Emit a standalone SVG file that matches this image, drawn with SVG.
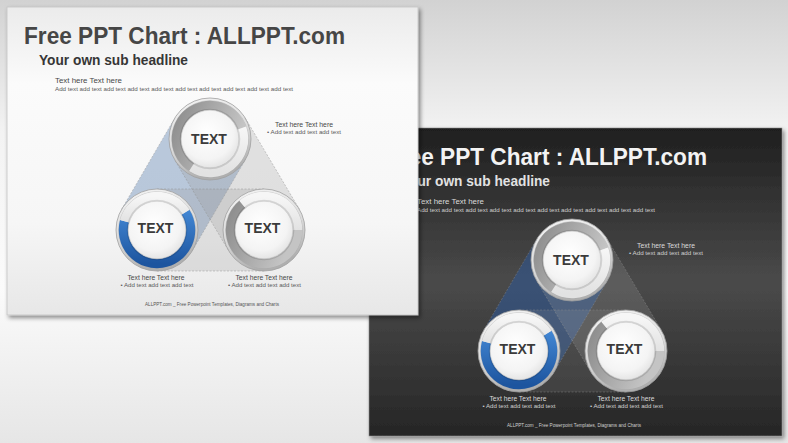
<svg xmlns="http://www.w3.org/2000/svg" width="788" height="443" viewBox="0 0 788 443">
<defs>
<linearGradient id="pageBg" x1="0" y1="0" x2="0" y2="1">
<stop offset="0" stop-color="#d2d2d2"/><stop offset="0.3" stop-color="#f3f3f3"/><stop offset="0.65" stop-color="#fbfbfb"/><stop offset="1" stop-color="#e6e6e6"/>
</linearGradient>
<linearGradient id="lightSlide" x1="0" y1="0" x2="0" y2="1">
<stop offset="0" stop-color="#ebebeb"/><stop offset="0.25" stop-color="#fbfbfb"/><stop offset="0.7" stop-color="#f6f6f6"/><stop offset="1" stop-color="#e7e7e7"/>
</linearGradient>
<linearGradient id="darkSlide" x1="0" y1="0" x2="0" y2="1">
<stop offset="0" stop-color="#1f1f1f"/><stop offset="0.5" stop-color="#4a4a4a"/><stop offset="1" stop-color="#262626"/>
</linearGradient>
<linearGradient id="rimG" x1="0" y1="0" x2="0.3" y2="1">
<stop offset="0" stop-color="#f6f6f6"/><stop offset="0.6" stop-color="#dadada"/><stop offset="1" stop-color="#afafaf"/>
</linearGradient>
<linearGradient id="grayG" x1="0" y1="0" x2="1" y2="0.4">
<stop offset="0" stop-color="#8c8c8c"/><stop offset="1" stop-color="#c4c4c4"/>
</linearGradient>
<linearGradient id="lightG" x1="0" y1="0" x2="0" y2="1">
<stop offset="0" stop-color="#f6f6f6"/><stop offset="1" stop-color="#e2e2e2"/>
</linearGradient>
<linearGradient id="blueG" x1="0" y1="0" x2="0" y2="1">
<stop offset="0" stop-color="#4185d2"/><stop offset="1" stop-color="#1d559f"/>
</linearGradient>
<radialGradient id="innerG" cx="0.45" cy="0.4" r="0.65">
<stop offset="0" stop-color="#ffffff"/><stop offset="0.7" stop-color="#f4f4f4"/><stop offset="1" stop-color="#e0e0e0"/>
</radialGradient>
<filter id="shadow" x="-5%" y="-5%" width="112%" height="115%">
<feDropShadow dx="2" dy="2.5" stdDeviation="2" flood-color="#000" flood-opacity="0.45"/>
</filter>
</defs>
<style>
text{font-family:"Liberation Sans",Arial,sans-serif}
.title{font-size:23px;font-weight:bold}
.sub{font-size:14px;font-weight:bold}
.sh{font-size:7.8px}
.sb{font-size:5.8px}
.lh{font-size:7px;text-anchor:middle}
.lb{font-size:6.2px;text-anchor:middle}
.foot{font-size:4.6px;text-anchor:middle}
.ctext{font-size:14px;font-weight:bold;fill:#3b3b3b;text-anchor:middle}
.rim{fill:url(#rimG);stroke:#a0a0a0;stroke-width:0.8}
.sep{fill:none;stroke:#a6a6a6;stroke-width:0.5}
.seg{fill:none;stroke-width:9.5}
.sg{stroke:url(#grayG)}
.sl{stroke:url(#lightG)}
.sbl{stroke:url(#blueG)}
.ish{fill:#000;opacity:0.12}
.inner{fill:url(#innerG);stroke:#cbcbcb;stroke-width:0.6}
.edge{stroke:#8c8c8c;stroke-width:0.6;stroke-dasharray:2 1.5;stroke-opacity:0.7}
.L .title{fill:#464646}.L .sub{fill:#363636}.L .sh,.L .lh{fill:#484848}.L .sb,.L .lb{fill:#5a5a5a}.L .foot{fill:#555}
.D .title{fill:#f3f3f3}.D .sub{fill:#e2e2e2}.D .sh,.D .lh{fill:#dadada}.D .sb,.D .lb{fill:#cfcfcf}.D .foot{fill:#cfcfcf}
.L .bA{fill:#5a7fb0;fill-opacity:0.4}.L .bB{fill:#9a9a9a;fill-opacity:0.26}.L .bC{fill:#9a9a9a;fill-opacity:0.24}
.D .bA{fill:#2b5aa0;fill-opacity:0.5}.D .bB{fill:#c0c0c0;fill-opacity:0.16}.D .bC{fill:#c0c0c0;fill-opacity:0.12}
</style>
<rect width="788" height="443" fill="url(#pageBg)"/>

<!-- Dark slide (behind) -->
<g id="slide-dark" class="D">
<rect x="369" y="128" width="413" height="308" fill="url(#darkSlide)" stroke="#8a8a8a" stroke-width="0.6" filter="url(#shadow)"/>
<g transform="translate(362,121)">
<text class="title" x="24" y="44" textLength="321" lengthAdjust="spacingAndGlyphs">Free PPT Chart : ALLPPT.com</text>
<text class="sub" x="39" y="65" textLength="149" lengthAdjust="spacingAndGlyphs">Your own sub headline</text>
<text class="sh" x="55" y="83" textLength="67" lengthAdjust="spacingAndGlyphs">Text here Text here</text>
<text class="sb" x="55" y="91" textLength="238" lengthAdjust="spacingAndGlyphs">Add text add text add text add text add text add text add text add text add text add text</text>
<g id="d-connectors">
<polygon class="bA edge" points="174.6,118.4 245.4,159.6 192.4,250.6 121.6,209.4"/>
<polygon class="bB edge" points="245.3,118.1 299.3,209.1 228.7,250.9 174.7,159.9"/>
<rect class="bC edge" x="157" y="189" width="107" height="82"/>
</g>
<g id="d-top" transform="translate(210,139)">
<circle class="rim" r="41"/><circle class="sep" r="38.3"/>
<path class="seg sg" d="M-18.25,28.10 A33.5,33.5 0 1 1 31.67,-10.91"/>
<path class="seg sl" d="M31.67,-10.91 A33.5,33.5 0 0 1 -18.25,28.10"/>
<circle class="ish" r="30.3"/><circle class="inner" r="28.8"/>
<text class="ctext" x="-1" y="5">TEXT</text>
</g>
<g id="d-left" transform="translate(157,230)">
<circle class="rim" r="41"/><circle class="sep" r="38.3"/>
<path class="seg sbl" d="M28.41,-17.75 A33.5,33.5 0 1 1 -32.36,-8.67"/>
<path class="seg sl" d="M-32.36,-8.67 A33.5,33.5 0 0 1 28.41,-17.75"/>
<circle class="ish" r="30.3"/><circle class="inner" r="28.8"/>
<text class="ctext" x="-1.5" y="3">TEXT</text>
</g>
<g id="d-right" transform="translate(264,230)">
<circle class="rim" r="41"/><circle class="sep" r="38.3"/>
<path class="seg sg" d="M33.5,0 A33.5,33.5 0 1 1 -21.53,-25.66"/>
<path class="seg sl" d="M-21.53,-25.66 A33.5,33.5 0 0 1 33.5,0"/>
<circle class="ish" r="30.3"/><circle class="inner" r="28.8"/>
<text class="ctext" x="-1.5" y="3">TEXT</text>
</g>
<g id="d-label-tr"><text class="lh" x="304" y="127" textLength="58" lengthAdjust="spacingAndGlyphs">Text here Text here</text><text class="lb" x="304" y="134" textLength="74" lengthAdjust="spacingAndGlyphs">• Add text add text add text</text></g>
<g id="d-label-bl"><text class="lh" x="156" y="280" textLength="57" lengthAdjust="spacingAndGlyphs">Text here Text here</text><text class="lb" x="157" y="287" textLength="73" lengthAdjust="spacingAndGlyphs">• Add text add text add text</text></g>
<g id="d-label-br"><text class="lh" x="264" y="280" textLength="57" lengthAdjust="spacingAndGlyphs">Text here Text here</text><text class="lb" x="264.5" y="287" textLength="73" lengthAdjust="spacingAndGlyphs">• Add text add text add text</text></g>
<text class="foot" x="212" y="306" textLength="134" lengthAdjust="spacingAndGlyphs">ALLPPT.com _ Free Powerpoint Templates, Diagrams and Charts</text>
</g>
</g>

<!-- Light slide (front) -->
<g id="slide-light" class="L">
<rect x="7" y="7" width="411" height="308" fill="url(#lightSlide)" stroke="#c4c4c4" stroke-width="0.8" filter="url(#shadow)"/>
<text class="title" x="24" y="44" textLength="321" lengthAdjust="spacingAndGlyphs">Free PPT Chart : ALLPPT.com</text>
<text class="sub" x="39" y="65" textLength="149" lengthAdjust="spacingAndGlyphs">Your own sub headline</text>
<text class="sh" x="55" y="83" textLength="67" lengthAdjust="spacingAndGlyphs">Text here Text here</text>
<text class="sb" x="55" y="91" textLength="238" lengthAdjust="spacingAndGlyphs">Add text add text add text add text add text add text add text add text add text add text</text>
<g id="l-connectors">
<polygon class="bA edge" points="174.6,118.4 245.4,159.6 192.4,250.6 121.6,209.4"/>
<polygon class="bB edge" points="245.3,118.1 299.3,209.1 228.7,250.9 174.7,159.9"/>
<rect class="bC edge" x="157" y="189" width="107" height="82"/>
</g>
<g id="l-top" transform="translate(210,139)">
<circle class="rim" r="41"/><circle class="sep" r="38.3"/>
<path class="seg sg" d="M-18.25,28.10 A33.5,33.5 0 1 1 31.67,-10.91"/>
<path class="seg sl" d="M31.67,-10.91 A33.5,33.5 0 0 1 -18.25,28.10"/>
<circle class="ish" r="30.3"/><circle class="inner" r="28.8"/>
<text class="ctext" x="-1" y="5">TEXT</text>
</g>
<g id="l-left" transform="translate(157,230)">
<circle class="rim" r="41"/><circle class="sep" r="38.3"/>
<path class="seg sbl" d="M28.41,-17.75 A33.5,33.5 0 1 1 -32.36,-8.67"/>
<path class="seg sl" d="M-32.36,-8.67 A33.5,33.5 0 0 1 28.41,-17.75"/>
<circle class="ish" r="30.3"/><circle class="inner" r="28.8"/>
<text class="ctext" x="-1.5" y="3">TEXT</text>
</g>
<g id="l-right" transform="translate(264,230)">
<circle class="rim" r="41"/><circle class="sep" r="38.3"/>
<path class="seg sg" d="M33.5,0 A33.5,33.5 0 1 1 -21.53,-25.66"/>
<path class="seg sl" d="M-21.53,-25.66 A33.5,33.5 0 0 1 33.5,0"/>
<circle class="ish" r="30.3"/><circle class="inner" r="28.8"/>
<text class="ctext" x="-1.5" y="3">TEXT</text>
</g>
<g id="l-label-tr"><text class="lh" x="304" y="127" textLength="58" lengthAdjust="spacingAndGlyphs">Text here Text here</text><text class="lb" x="304" y="134" textLength="74" lengthAdjust="spacingAndGlyphs">• Add text add text add text</text></g>
<g id="l-label-bl"><text class="lh" x="156" y="280" textLength="57" lengthAdjust="spacingAndGlyphs">Text here Text here</text><text class="lb" x="157" y="287" textLength="73" lengthAdjust="spacingAndGlyphs">• Add text add text add text</text></g>
<g id="l-label-br"><text class="lh" x="264" y="280" textLength="57" lengthAdjust="spacingAndGlyphs">Text here Text here</text><text class="lb" x="264.5" y="287" textLength="73" lengthAdjust="spacingAndGlyphs">• Add text add text add text</text></g>
<text class="foot" x="212" y="306" textLength="134" lengthAdjust="spacingAndGlyphs">ALLPPT.com _ Free Powerpoint Templates, Diagrams and Charts</text>
</g>
</svg>
